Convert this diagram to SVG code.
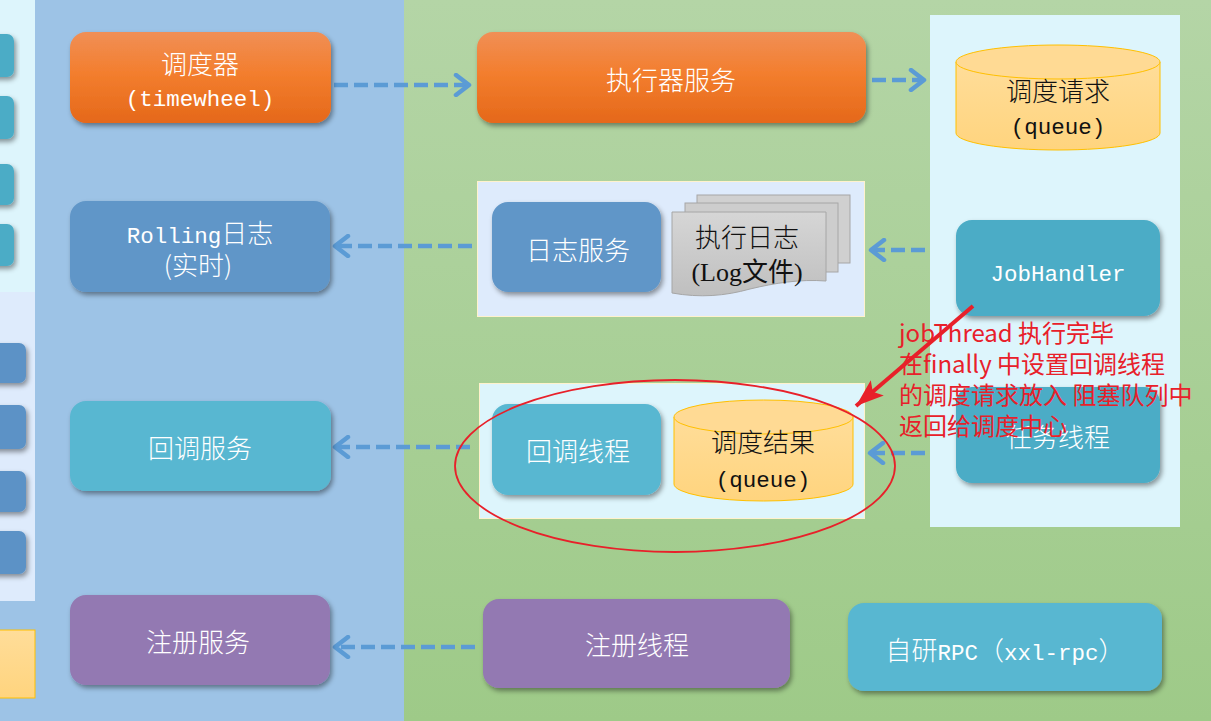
<svg xmlns="http://www.w3.org/2000/svg" width="1211" height="721" viewBox="0 0 1211 721">
<defs>
<linearGradient id="gGreen" x1="0" y1="0" x2="0" y2="1"><stop offset="0" stop-color="#B4D5A6"/><stop offset="1" stop-color="#9ECA88"/></linearGradient>
<linearGradient id="gOrange" x1="0" y1="0" x2="0" y2="1"><stop offset="0" stop-color="#F08F56"/><stop offset="0.45" stop-color="#F37E2E"/><stop offset="1" stop-color="#E5681A"/></linearGradient>
<linearGradient id="gYellow" x1="0" y1="0" x2="0" y2="1"><stop offset="0" stop-color="#FFDD99"/><stop offset="1" stop-color="#FFD47E"/></linearGradient>
<linearGradient id="gDoc" x1="0" y1="0" x2="0" y2="1"><stop offset="0" stop-color="#D6D6D6"/><stop offset="1" stop-color="#BFBFBF"/></linearGradient>
<filter id="sh" x="-10%" y="-10%" width="125%" height="135%"><feDropShadow dx="2" dy="3" stdDeviation="2.5" flood-color="#000" flood-opacity="0.4"/></filter>
<marker id="chev" markerUnits="userSpaceOnUse" viewBox="-16 -12 20 24" markerWidth="20" markerHeight="24" refX="0" refY="0" orient="auto"><path d="M-13,-10 L0,0 L-13,10" fill="none" stroke="#5B9BD5" stroke-width="4.5" stroke-linecap="round" stroke-linejoin="round"/></marker>
<marker id="redArr" markerUnits="userSpaceOnUse" viewBox="-30 -12 32 24" markerWidth="32" markerHeight="24" refX="0" refY="0" orient="auto"><path d="M-28,-10 L0,0 L-28,10 L-22,0 Z" fill="#E8202A"/></marker>
</defs>
<style>
.box{filter:url(#sh)}
.wt{fill:#fff;font-family:"Noto Sans CJK SC","Liberation Sans",sans-serif;font-size:26px;font-weight:300;text-anchor:middle}
.bk{fill:#111;font-family:"Noto Sans CJK SC","Liberation Serif",serif;font-size:26px;font-weight:300;text-anchor:middle}
.wt .mono,.bk.mono,.wt.mono,.mono{font-family:"Liberation Mono","Noto Sans CJK SC",monospace;font-size:22.5px;font-weight:400}
.bk.serif{font-family:"Liberation Serif","Noto Sans CJK SC",serif;font-weight:400}
.conn{fill:none;stroke:#5B9BD5;stroke-width:4.5;stroke-dasharray:14 6;marker-end:url(#chev)}
.red{fill:#E8202A;font-family:"Noto Sans CJK SC","Liberation Sans",sans-serif;font-size:24px}
</style>

<!-- backgrounds -->
<rect x="0" y="0" width="1211" height="721" fill="#9DC3E6"/>
<rect x="404" y="0" width="807" height="721" fill="url(#gGreen)"/>
<rect x="0" y="0" width="35" height="292" fill="#DDF5FC"/>
<rect x="0" y="292" width="35" height="309" fill="#DEEBFC"/>
<g id="edge-boxes">
<rect class="box" x="-20" y="34" width="34" height="43" rx="7" fill="#4BACC6"/>
<rect class="box" x="-20" y="96" width="34" height="43" rx="7" fill="#4BACC6"/>
<rect class="box" x="-20" y="164" width="34" height="41" rx="7" fill="#4BACC6"/>
<rect class="box" x="-20" y="224" width="34" height="42" rx="7" fill="#4BACC6"/>
<rect class="box" x="-20" y="343" width="46" height="40" rx="7" fill="#5B92C6"/>
<rect class="box" x="-20" y="405" width="46" height="44" rx="7" fill="#5B92C6"/>
<rect class="box" x="-20" y="471" width="46" height="41" rx="7" fill="#5B92C6"/>
<rect class="box" x="-20" y="531" width="46" height="43" rx="7" fill="#5B92C6"/>
<rect x="-2" y="630" width="37" height="68" fill="url(#gYellow)" stroke="#FFC000" stroke-width="1"/>
</g>

<!-- panels -->
<rect x="930" y="15" width="250" height="512" fill="#DDF5FC"/>
<rect x="477.5" y="181.5" width="387" height="135" fill="#DEEBFC" stroke="#FFF2CC" stroke-width="1"/>
<rect x="479.5" y="383.5" width="385" height="135" fill="#DDF5FC" stroke="#FFF2CC" stroke-width="1"/>

<!-- connectors -->
<g id="connectors">
<path class="conn" d="M334,85 H469"/>
<path class="conn" d="M872,80 H924"/>
<path class="conn" d="M925,250 H871"/>
<path class="conn" d="M472,246 H335"/>
<path class="conn" d="M925,453 H870"/>
<path class="conn" d="M470,447 H335"/>
<path class="conn" d="M475,647 H335"/>
</g>

<g id="scheduler"><rect class="box" x="70" y="32" width="261" height="91" rx="16" fill="url(#gOrange)"/>
<text class="wt" x="200" y="74">调度器</text><text class="wt mono" x="200" y="106">(timewheel)</text></g>

<g id="rolling-log"><rect class="box" x="70" y="201" width="260" height="91" rx="16" fill="#6096C8"/>
<text class="wt" x="200" y="243"><tspan class="mono">Rolling</tspan>日志</text><text class="wt" x="198" y="275">(实时)</text></g>

<g id="callback-service"><rect class="box" x="70" y="401" width="261" height="90" rx="16" fill="#58B7D1"/>
<text class="wt" x="200" y="458">回调服务</text></g>

<g id="register-service"><rect class="box" x="70" y="595" width="260" height="90" rx="16" fill="#9379B2"/>
<text class="wt" x="198" y="652">注册服务</text></g>

<g id="executor-service"><rect class="box" x="477" y="32" width="389" height="91" rx="16" fill="url(#gOrange)"/>
<text class="wt" x="671" y="90" font-size="27">执行器服务</text></g>

<g id="log-service"><rect class="box" x="492" y="202" width="169" height="90" rx="16" fill="#6096C8"/>
<text class="wt" x="578" y="260">日志服务</text></g>

<g id="exec-log">
<rect x="697" y="195" width="153" height="68" fill="#D0D0D0" stroke="#A6A6A6" stroke-width="1"/>
<rect x="685" y="203" width="153" height="69" fill="#CDCDCD" stroke="#A6A6A6" stroke-width="1"/>
<path d="M672,212 H826 V281 C800,279 775,283 750,289 C725,296 700,298 672,293 Z" fill="url(#gDoc)" stroke="#A6A6A6" stroke-width="1"/>
<text class="bk" x="747" y="247">执行日志</text>
<text class="bk serif" x="747" y="281" font-size="26">(Log文件)</text>
</g>

<g id="schedule-request">
<path d="M956,62 V133 A102,17 0 0 0 1160,133 V62" fill="url(#gYellow)" stroke="#FFC000" stroke-width="1"/>
<ellipse cx="1058" cy="62" rx="102" ry="17" fill="#FFDA94" stroke="#FFC000" stroke-width="1"/>
<text class="bk" x="1058" y="101">调度请求</text>
<text class="bk mono" x="1058" y="134">(queue)</text>
</g>

<g id="jobhandler"><rect class="box" x="956" y="220" width="204" height="96" rx="16" fill="#4BACC6"/>
<text class="wt mono" x="1058" y="281">JobHandler</text></g>

<g id="task-thread"><rect class="box" x="956" y="387" width="204" height="96" rx="16" fill="#4BACC6"/>
<text class="wt" x="1058" y="447">任务线程</text></g>

<g id="callback-thread"><rect class="box" x="492" y="404" width="169" height="91" rx="16" fill="#58B7D1"/>
<text class="wt" x="578" y="461">回调线程</text></g>

<g id="schedule-result">
<path d="M674,417 V484 A89.5,17 0 0 0 853,484 V417" fill="url(#gYellow)" stroke="#FFC000" stroke-width="1"/>
<ellipse cx="763.5" cy="417" rx="89.5" ry="17" fill="#FFDA94" stroke="#FFC000" stroke-width="1"/>
<text class="bk" x="763" y="452">调度结果</text>
<text class="bk mono" x="763" y="487">(queue)</text>
</g>

<g id="register-thread"><rect class="box" x="483" y="599" width="307" height="89" rx="16" fill="#9379B2"/>
<text class="wt" x="637" y="655">注册线程</text></g>

<g id="xxl-rpc"><rect class="box" x="848" y="603" width="314" height="88" rx="16" fill="#58B7D1"/>
<text class="wt" x="1005" y="660" font-size="24">自研<tspan class="mono" font-size="22">RPC</tspan>（<tspan class="mono" font-size="22">xxl-rpc</tspan>）</text></g>

<!-- annotation -->
<g id="annotation">
<ellipse cx="675" cy="466" rx="220" ry="86" fill="none" stroke="#E8202A" stroke-width="1.8"/>
<path d="M973,306 L856,406" fill="none" stroke="#E8202A" stroke-width="4" marker-end="url(#redArr)"/>
<text class="red" x="899" y="342">jobThread 执行完毕</text>
<text class="red" x="899" y="373">在finally 中设置回调线程</text>
<text class="red" x="899" y="404">的调度请求放入 阻塞队列中</text>
<text class="red" x="899" y="435">返回给调度中心</text>
</g>
</svg>
